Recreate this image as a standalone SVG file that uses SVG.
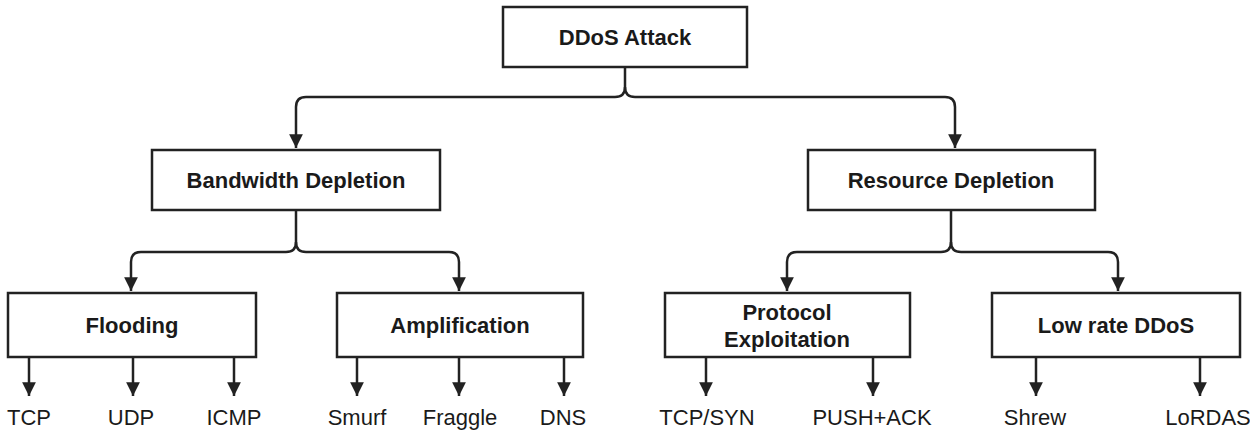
<svg xmlns="http://www.w3.org/2000/svg" width="1250" height="436" viewBox="0 0 1250 436">
<style>
rect{fill:#fff;stroke:#222;stroke-width:2.5}
.c path{fill:none;stroke:#222;stroke-width:2.5}
text{font-family:"Liberation Sans",Arial,sans-serif;font-size:22px;fill:#1a1a1a;text-anchor:middle}
.n text{font-weight:bold}
</style>
<defs><marker id="a" viewBox="0 0 10 10" refX="10" refY="5" markerWidth="5.5" markerHeight="5.5" orient="auto" markerUnits="strokeWidth"><path d="M0,0L10,5L0,10z" fill="#222"/></marker></defs>
<rect width="1250" height="436" style="stroke:none"/>
<g class="c">
<path d="M625,67V87Q625,97 615,97H306Q296,97 296,107V148" marker-end="url(#a)"/>
<path d="M625,87Q625,97 635,97H945Q955,97 955,107V148" marker-end="url(#a)"/>
<path d="M296,210V242Q296,252 286,252H141Q131,252 131,262V291" marker-end="url(#a)"/>
<path d="M296,242Q296,252 306,252H449Q459,252 459,262V291" marker-end="url(#a)"/>
<path d="M951,210V242Q951,252 941,252H797Q787,252 787,262V291" marker-end="url(#a)"/>
<path d="M951,242Q951,252 961,252H1108Q1118,252 1118,262V291" marker-end="url(#a)"/>
<path d="M29,357V396" marker-end="url(#a)"/><path d="M133,357V396" marker-end="url(#a)"/><path d="M234,357V396" marker-end="url(#a)"/>
<path d="M357,357V396" marker-end="url(#a)"/><path d="M459,357V396" marker-end="url(#a)"/><path d="M564,357V396" marker-end="url(#a)"/>
<path d="M706,357V396" marker-end="url(#a)"/><path d="M873,357V396" marker-end="url(#a)"/>
<path d="M1036,357V396" marker-end="url(#a)"/><path d="M1200,357V396" marker-end="url(#a)"/>
</g>
<g class="n">
<g id="root"><rect x="503" y="7" width="244" height="60"/><text x="625" y="45">DDoS Attack</text></g>
<g id="bw"><rect x="152" y="150" width="288" height="60"/><text x="296" y="188">Bandwidth Depletion</text></g>
<g id="rd"><rect x="808" y="150" width="287" height="60"/><text x="951" y="188">Resource Depletion</text></g>
<g id="fl"><rect x="8" y="293" width="248" height="64"/><text x="132" y="333">Flooding</text></g>
<g id="am"><rect x="337" y="293" width="246" height="64"/><text x="460" y="333">Amplification</text></g>
<g id="pe"><rect x="665" y="293" width="245" height="64"/><text x="787" y="320">Protocol</text><text x="787" y="347">Exploitation</text></g>
<g id="lr"><rect x="992" y="293" width="248" height="64"/><text x="1116" y="333">Low rate DDoS</text></g>
</g>
<g id="leaves">
<text x="29" y="425">TCP</text><text x="131" y="425">UDP</text><text x="234" y="425">ICMP</text>
<text x="357" y="425">Smurf</text><text x="460" y="425">Fraggle</text><text x="563" y="425">DNS</text>
<text x="707" y="425">TCP/SYN</text><text x="872" y="425">PUSH+ACK</text>
<text x="1035" y="425">Shrew</text><text x="1208" y="425">LoRDAS</text>
</g>
</svg>
